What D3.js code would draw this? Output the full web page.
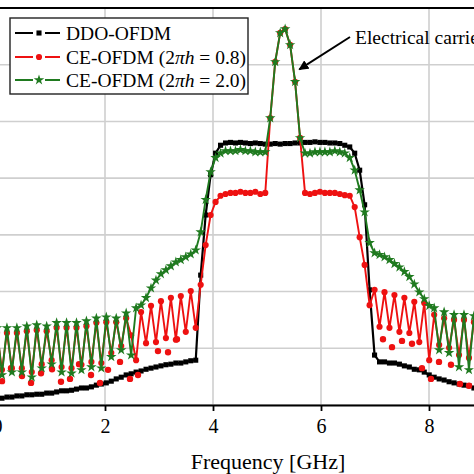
<!DOCTYPE html>
<html><head><meta charset="utf-8">
<script src="https://cdn.jsdelivr.net/npm/d3@7"></script>
<style>html,body{margin:0;padding:0;background:#fff;overflow:hidden}svg{display:block}</style>
</head><body><svg id="chart" width="474" height="474"></svg>
<script>
// Sampling grid (GHz): sample k is at k * freqStep
const freqStep = 0.092;
// PSD values (dB) per sample
const ddoOfdm = [-78.8,-78.8,-78.6,-78.6,-78.4,-78.4,-78.2,-78.2,-78.1,-78.1,
 -77.9,-77.9,-77.7,-77.5,-77.5,-77.4,-77.2,-77.0,-77.0,-76.8,
 -76.5,-76.3,-76.1,-75.8,-75.4,-75.1,-74.7,-74.5,-74.2,-74.0,
 -73.7,-73.5,-73.3,-73.1,-72.9,-72.8,-72.6,-72.6,-72.4,-72.2,
 -72.1,-57.1,-46.5,-39.4,-35.6,-34.2,-33.8,-33.7,-33.8,-33.7,
 -33.8,-33.9,-33.8,-33.9,-34.0,-34.0,-33.9,-34.0,-33.9,-33.9,
 -33.8,-33.8,-33.7,-33.7,-33.6,-33.7,-33.7,-33.8,-33.8,-33.9,
 -34.2,-34.5,-35.6,-38.6,-44.7,-59.7,-71.2,-72.4,-72.4,-72.6,
 -72.6,-72.8,-73.1,-73.3,-73.7,-73.8,-74.2,-74.7,-75.1,-75.4,
 -75.6,-75.9,-76.1,-76.3,-76.5,-76.6,-77.0,-77.2];
const ceOfdm08 = [-67.3,-73.8,-67.3,-73.5,-67.3,-73.5,-67.0,-74.2,-66.8,-72.8,
 -67.0,-72.1,-66.4,-73.3,-66.4,-73.5,-66.4,-72.9,-66.1,-72.4,
 -65.5,-72.6,-65.4,-70.8,-65.4,-69.6,-64.7,-67.7,-72.1,-63.6,
 -69.1,-62.5,-68.9,-61.7,-68.2,-61.1,-68.5,-60.8,-67.1,-59.9,
 -66.4,-58.8,-51.8,-46.5,-44.2,-43.1,-42.8,-42.6,-42.6,-42.4,
 -42.6,-42.6,-42.4,-42.8,-42.6,-29.4,-19.5,-14.4,-13.7,-16.5,
 -23.0,-32.9,-42.6,-42.8,-42.6,-42.4,-42.6,-42.6,-42.6,-42.8,
 -43.0,-43.1,-45.1,-50.4,-55.3,-62.4,-59.7,-66.2,-60.1,-66.4,
 -60.6,-67.1,-61.1,-67.3,-61.8,-68.9,-62.0,-72.1,-64.1,-69.4,
 -64.7,-69.9,-65.0,-71.2,-65.0,-71.7,-65.4,-72.1];
const ceOfdm20 = [-66.4,-74.7,-66.4,-74.2,-66.4,-74.2,-66.1,-75.1,-65.9,-73.5,
 -66.1,-72.8,-65.5,-74.2,-65.5,-74.4,-65.5,-73.8,-65.2,-73.3,
 -64.7,-73.5,-64.5,-71.5,-64.7,-70.3,-63.8,-71.2,-62.9,-62.4,
 -61.1,-59.4,-58.0,-56.9,-56.2,-55.5,-54.8,-54.4,-53.9,-53.4,
 -52.7,-49.5,-43.8,-38.9,-36.4,-35.6,-35.2,-35.2,-35.2,-35.0,
 -35.2,-35.2,-35.4,-35.4,-35.4,-29.4,-19.5,-14.4,-13.7,-16.5,
 -23.0,-32.9,-35.6,-35.6,-35.4,-35.4,-35.4,-35.4,-35.2,-35.4,
 -35.6,-36.4,-38.6,-42.1,-46.0,-51.4,-53.2,-53.5,-53.9,-54.4,
 -55.1,-55.7,-56.5,-57.4,-58.7,-60.1,-61.3,-62.5,-62.9,-70.3,
 -63.6,-70.8,-64.1,-73.3,-64.1,-73.8,-64.3,-74.2];
// extra CE-OFDM (2πh = 0.8) markers lying below the trace
const ce08DotFreq = [0.093,0.259,0.463,0.630,0.815,1.019,1.185,1.352,1.519,1.741,1.907,2.056,2.278,2.463,2.611,2.981,3.167,3.333,
 7.148,7.315,7.500,7.685,7.870,8.037,8.185,8.407,8.574,8.741];
const ce08DotVal = [-75.8,-73.5,-74.9,-76.1,-74.4,-73.7,-75.9,-75.4,-72.8,-74.7,-76.1,-73.8,-72.4,-75.4,-74.7,-70.5,-70.7,-68.4,
 -68.4,-69.8,-68.7,-69.2,-73.5,-75.4,-72.4,-72.9,-76.3,-76.6];
const xTicks = [0,2,4,6,8];
const yTicks = [-80,-70,-60,-50,-40,-30,-20,-10];
const seriesNames = ["DDO-OFDM","CE-OFDM (2πh = 0.8)","CE-OFDM (2πh = 2.0)"];
const annotationText = "Electrical carrier";
const annotationFreq = 5.45, annotationVal = -17.3;

const svg = d3.select("#chart");
const x = d3.scaleLinear().domain([0,10]).range([-3,537]);
const y = d3.scaleLinear().domain([-80,-10]).range([405,8]);
const serif = "'Liberation Serif','Times New Roman',serif";

// grid
const g = svg.append("g");
g.selectAll("line.vg").data(xTicks).join("line")
 .attr("x1",d=>x(d)).attr("x2",d=>x(d)).attr("y1",y(-80)).attr("y2",y(-10))
 .attr("stroke","#cfcfcf").attr("stroke-width",1.6);
g.selectAll("line.hg").data(yTicks).join("line")
 .attr("x1",x(0)).attr("x2",x(10)).attr("y1",d=>y(d)).attr("y2",d=>y(d))
 .attr("stroke","#cfcfcf").attr("stroke-width",1.6);

// axes
const xAxis = svg.append("g").attr("transform",`translate(0,${y(-80)})`)
 .call(d3.axisBottom(x).tickValues(xTicks).tickSize(6).tickSizeOuter(0).tickFormat(d3.format("d")));
xAxis.select(".domain").attr("stroke","#000").attr("stroke-width",2.2);
xAxis.selectAll(".tick line").attr("stroke","#000").attr("stroke-width",1.8);
xAxis.selectAll(".tick text").attr("font-family",serif).attr("font-size",20).attr("fill","#000").attr("dy","0.95em");
const yAxis = svg.append("g").attr("transform",`translate(${x(0)},0)`)
 .call(d3.axisLeft(y).tickValues(yTicks).tickSizeOuter(0).tickFormat(""));
yAxis.select(".domain").attr("stroke","#000").attr("stroke-width",2);
svg.append("line").attr("x1",x(0)).attr("x2",x(10)).attr("y1",y(-10)).attr("y2",y(-10))
 .attr("stroke","#000").attr("stroke-width",2.2);

svg.append("text").attr("x",268).attr("y",469).attr("text-anchor","middle")
 .attr("font-family",serif).attr("font-size",22).text("Frequency [GHz]");

// series
const clip = svg.append("clipPath").attr("id","clip").append("rect")
 .attr("x",x(0)).attr("y",y(-10)-6).attr("width",x(10)-x(0)).attr("height",y(-80)-y(-10)+6);
const plot = svg.append("g").attr("clip-path","url(#clip)");
const line = d3.line().x((d,i)=>x(i*freqStep)).y(d=>y(d));
const styles = [
 {data:ddoOfdm,color:"#000000",sym:d3.symbolSquare,size:26,lw:2.2},
 {data:ceOfdm08,color:"#ee1111",sym:d3.symbolCircle,size:30,lw:1.9},
 {data:ceOfdm20,color:"#1f7a1f",sym:d3.symbolStar,size:34,lw:1.9}
];
styles.forEach((s,k)=>{
 const gg = plot.append("g");
 gg.append("path").datum(s.data).attr("d",line).attr("fill","none")
  .attr("stroke",s.color).attr("stroke-width",s.lw).attr("stroke-linejoin","round");
 gg.selectAll("path.m").data(s.data).join("path").attr("class","m")
  .attr("transform",(d,i)=>`translate(${x(i*freqStep)},${y(d)})`)
  .attr("d",d3.symbol().type(s.sym).size(s.size)).attr("fill",s.color);
 if(k===1){
  gg.selectAll("path.dot").data(ce08DotFreq).join("path").attr("class","dot")
   .attr("transform",(d,i)=>`translate(${x(d)},${y(ce08DotVal[i])})`)
   .attr("d",d3.symbol().type(d3.symbolCircle).size(32)).attr("fill",s.color);
 }
});

// legend
const lg = svg.append("g");
lg.append("rect").attr("x",10).attr("y",18).attr("width",238).attr("height",76)
 .attr("fill","#fff").attr("stroke","#222").attr("stroke-width",1.4);
const rowsY = [33,57,80];
styles.forEach((s,k)=>{
 const yy = rowsY[k];
 lg.append("line").attr("x1",15).attr("x2",33).attr("y1",yy).attr("y2",yy).attr("stroke",s.color).attr("stroke-width",2);
 lg.append("line").attr("x1",45).attr("x2",60).attr("y1",yy).attr("y2",yy).attr("stroke",s.color).attr("stroke-width",2);
 lg.append("path").attr("transform",`translate(39,${yy})`).attr("d",d3.symbol().type(s.sym).size(s.size)).attr("fill",s.color);
 const t = lg.append("text").attr("x",66).attr("y",yy+6.5).attr("font-family",serif).attr("font-size",19.5).attr("fill","#000");
 if(k===0){ t.text(seriesNames[0]); }
 else {
  const nm = seriesNames[k];
  const i0 = nm.indexOf("π");
  t.append("tspan").text(nm.slice(0,i0));
  t.append("tspan").attr("font-style","italic").text("πh");
  t.append("tspan").text(nm.slice(i0+2));
 }
});

// annotation
svg.append("defs").append("marker").attr("id","ah").attr("viewBox","0 0 10 10").attr("refX",9).attr("refY",5)
 .attr("markerWidth",5).attr("markerHeight",5).attr("orient","auto")
 .append("path").attr("d","M0,0 L10,5 L0,10 z").attr("fill","#000");
svg.append("line").attr("x1",350).attr("y1",37).attr("x2",x(annotationFreq)+8).attr("y2",y(annotationVal)+20)
 .attr("stroke","#000").attr("stroke-width",2).attr("marker-end","url(#ah)");
svg.append("text").attr("x",355).attr("y",44).attr("font-family",serif).attr("font-size",19.5).text(annotationText);
</script></body></html>
